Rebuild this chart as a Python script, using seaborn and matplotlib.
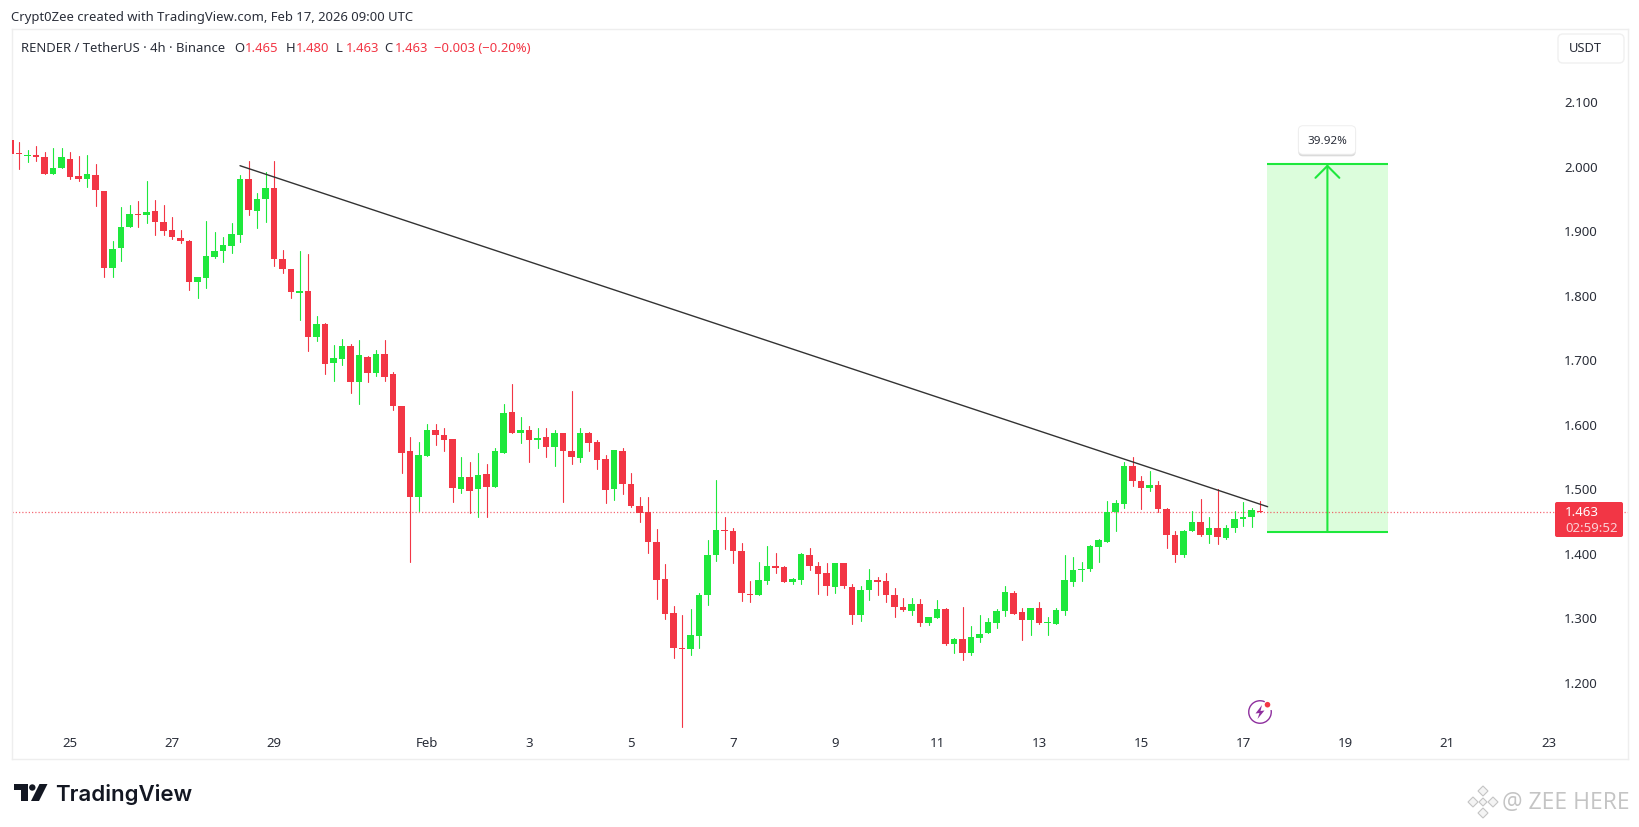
import numpy as np
import pandas as pd
import seaborn as sns
import matplotlib
matplotlib.use("Agg")
from matplotlib import pyplot as plt
from matplotlib import patches
from matplotlib import patheffects as pe

# RENDER/USDT 4h candles
opens = [2.040,2.019,2.015,2.017,2.013,1.987,1.997,2.011,1.984,1.980,
         1.985,1.961,1.841,1.872,1.905,1.925,1.923,1.929,1.912,1.900,
         1.888,1.884,1.820,1.826,1.858,1.868,1.876,1.893,1.979,1.930,
         1.948,1.966,1.856,1.840,1.802,1.806,1.735,1.755,1.694,1.701,
         1.721,1.665,1.704,1.679,1.708,1.677,1.628,1.557,1.487,1.550,
         1.591,1.582,1.576,1.499,1.518,1.498,1.522,1.502,1.554,1.618,
         1.585,1.590,1.574,1.579,1.564,1.586,1.558,1.547,1.586,1.571,
         1.545,1.498,1.558,1.507,1.473,1.463,1.416,1.359,1.307,1.253,
         1.250,1.271,1.334,1.397,1.435,1.433,1.403,1.336,1.334,1.356,
         1.380,1.378,1.355,1.357,1.397,1.379,1.368,1.347,1.384,1.347,
         1.303,1.342,1.357,1.356,1.334,1.316,1.310,1.320,1.291,1.299,
         1.313,1.259,1.266,1.245,1.268,1.275,1.291,1.309,1.337,1.308,
         1.295,1.314,1.291,1.290,1.309,1.355,1.373,1.375,1.409,1.417,
         1.463,1.476,1.535,1.511,1.500,1.505,1.467,1.428,1.396,1.434,
         1.447,1.427,1.438,1.423,1.438,1.452,1.455,1.465]
highs = [2.040,2.037,2.024,2.030,2.022,2.027,2.028,2.022,2.015,2.017,
         2.002,1.961,1.883,1.936,1.939,1.946,1.977,1.947,1.939,1.920,
         1.900,1.885,1.828,1.915,1.897,1.890,1.911,1.985,2.007,1.958,
         1.991,2.007,1.869,1.840,1.868,1.863,1.767,1.756,1.722,1.731,
         1.724,1.730,1.705,1.714,1.729,1.680,1.628,1.579,1.572,1.600,
         1.600,1.593,1.577,1.548,1.541,1.554,1.537,1.563,1.630,1.662,
         1.611,1.596,1.593,1.593,1.590,1.586,1.651,1.594,1.587,1.575,
         1.551,1.560,1.562,1.523,1.487,1.487,1.436,1.383,1.317,1.303,
         1.313,1.337,1.420,1.513,1.455,1.439,1.415,1.356,1.386,1.411,
         1.400,1.379,1.361,1.399,1.407,1.386,1.384,1.384,1.384,1.352,
         1.348,1.374,1.363,1.368,1.346,1.330,1.330,1.328,1.300,1.326,
         1.314,1.267,1.316,1.287,1.304,1.298,1.313,1.349,1.341,1.314,
         1.314,1.323,1.301,1.314,1.396,1.394,1.385,1.412,1.421,1.480,
         1.481,1.540,1.549,1.519,1.527,1.511,1.470,1.433,1.435,1.464,
         1.483,1.455,1.498,1.443,1.465,1.478,1.470,1.480]
lows = [2.018,1.995,2.005,2.008,1.987,1.987,1.997,1.980,1.977,1.967,
        1.938,1.827,1.827,1.853,1.905,1.905,1.911,1.893,1.893,1.887,
        1.880,1.807,1.795,1.811,1.857,1.850,1.865,1.882,1.923,1.903,
        1.913,1.845,1.833,1.795,1.761,1.713,1.728,1.677,1.666,1.691,
        1.648,1.631,1.664,1.674,1.666,1.621,1.523,1.385,1.465,1.550,
        1.567,1.557,1.479,1.493,1.461,1.455,1.456,1.502,1.554,1.585,
        1.570,1.541,1.562,1.548,1.534,1.478,1.537,1.541,1.557,1.530,
        1.477,1.481,1.491,1.471,1.448,1.400,1.328,1.297,1.237,1.129,
        1.241,1.252,1.319,1.387,1.406,1.384,1.325,1.323,1.334,1.352,
        1.369,1.354,1.352,1.352,1.373,1.336,1.335,1.338,1.345,1.289,
        1.294,1.327,1.334,1.324,1.300,1.309,1.303,1.286,1.288,1.299,
        1.257,1.244,1.234,1.241,1.262,1.275,1.283,1.302,1.305,1.265,
        1.273,1.290,1.273,1.290,1.303,1.348,1.356,1.371,1.386,1.417,
        1.433,1.469,1.503,1.467,1.496,1.463,1.408,1.386,1.393,1.434,
        1.426,1.415,1.413,1.422,1.432,1.442,1.440,1.463]
closes = [2.018,2.018,2.017,2.014,1.987,1.997,2.013,1.982,1.980,1.987,
          1.962,1.841,1.871,1.905,1.925,1.923,1.928,1.912,1.899,1.889,
          1.883,1.820,1.827,1.860,1.867,1.877,1.894,1.979,1.931,1.948,
          1.966,1.856,1.840,1.804,1.805,1.735,1.754,1.693,1.702,1.721,
          1.665,1.706,1.679,1.708,1.673,1.627,1.554,1.487,1.551,1.591,
          1.583,1.575,1.501,1.518,1.496,1.521,1.502,1.557,1.617,1.585,
          1.590,1.574,1.578,1.564,1.586,1.558,1.548,1.586,1.570,1.544,
          1.497,1.559,1.507,1.472,1.462,1.416,1.358,1.305,1.253,1.250,
          1.272,1.334,1.397,1.435,1.433,1.403,1.337,1.335,1.357,1.379,
          1.377,1.355,1.359,1.398,1.380,1.367,1.348,1.384,1.348,1.303,
          1.342,1.357,1.355,1.335,1.316,1.311,1.320,1.291,1.300,1.312,
          1.259,1.266,1.244,1.270,1.274,1.292,1.310,1.339,1.305,1.295,
          1.314,1.291,1.293,1.311,1.357,1.373,1.375,1.410,1.419,1.463,
          1.477,1.534,1.511,1.501,1.505,1.467,1.428,1.397,1.433,1.447,
          1.427,1.438,1.424,1.438,1.452,1.456,1.466,1.463]

last_bar = "2026-02-17 08:00"
tick_dates = ["2026-01-25", "2026-01-27", "2026-01-29", "2026-02-01", "2026-02-03",
              "2026-02-05", "2026-02-07", "2026-02-09", "2026-02-11", "2026-02-13",
              "2026-02-15", "2026-02-17", "2026-02-19", "2026-02-21", "2026-02-23"]
tick_labels = ["25", "27", "29", "Feb", "3", "5", "7", "9", "11", "13", "15", "17", "19", "21", "23"]
price_ticks = [1.2, 1.3, 1.4, 1.5, 1.6, 1.7, 1.8, 1.9, 2.0, 2.1]

trend_bars = [27, 147.9]
trend_prices = [2.000, 1.4713]
long_bars = [147.8, 162.06]
entry_price = 1.4326
target_price = 2.002
last_price = 1.463

GREEN = "#1ee83c"
RED = "#f23645"
FRAME = "#eeeeee"
TEXT = "#2a2e39"

sns.set_theme(style="white")
plt.rcParams["font.family"] = ["Noto Sans", "DejaVu Sans"]

df = pd.DataFrame({"open": opens, "high": highs, "low": lows, "close": closes})
df["bar"] = np.arange(len(df))
df["side"] = np.where(df["close"] >= df["open"], "up", "down")
df["top"] = df[["open", "close"]].max(axis=1)
df["bottom"] = df[["open", "close"]].min(axis=1)
df["body"] = df["top"] - df["bottom"]

dates = pd.date_range(end=last_bar, periods=len(df), freq="4h")
tick_pos = [(pd.Timestamp(d) - dates[0]) / pd.Timedelta(hours=4) for d in tick_dates]

fig = plt.figure(figsize=(16.4, 8.28), dpi=100)
ax = fig.add_axes([12 / 1640, (828 - 760) / 828, 1616 / 1640, 730 / 828])

# long position box goes under the candles
ax.fill_between(long_bars, entry_price, target_price, color="#dcfddc", lw=0, zorder=1)
ax.hlines([entry_price, target_price], long_bars[0], long_bars[1], color=GREEN, lw=1.5, zorder=2)
ax.annotate("", xy=(np.mean(long_bars), target_price), xytext=(np.mean(long_bars), entry_price),
            arrowprops=dict(arrowstyle="->,head_length=8.6,head_width=8.6", mutation_scale=1,
                            color=GREEN, lw=1.5, shrinkA=0, shrinkB=0), zorder=2)

ax.axhline(last_price, color=RED, lw=0.9, ls=(0, (1, 1.6)), alpha=0.75, zorder=2)

wicks = df.melt(id_vars=["bar", "side"], value_vars=["low", "high"], value_name="price")
sns.lineplot(data=wicks, x="bar", y="price", hue="side", units="bar", estimator=None,
             palette={"up": GREEN, "down": RED}, lw=0.8, legend=False, ax=ax, zorder=3)

for side, col in [("up", GREEN), ("down", RED)]:
    part = df[df["side"] == side]
    sns.barplot(data=part, x="bar", y="body", native_scale=True, errorbar=None, color=col,
                saturation=1, width=0.72, bottom=part["bottom"].values, lw=0, ax=ax, zorder=4)

ax.plot(trend_bars, trend_prices, color="#333333", lw=1, zorder=5)

ax.set_xlim((12 - 10.5) / 8.5, (1628 - 10.5) / 8.5)
ax.set_ylim(2 - (760 - 166.7) / 645, 2 - (30 - 166.7) / 645)
ax.set_xlabel("")
ax.set_ylabel("")
ax.set_xticks(tick_pos, tick_labels)
ax.set_yticks(price_ticks, [f"{p:.3f}" for p in price_ticks])
ax.yaxis.tick_right()
ax.tick_params(axis="x", length=0, pad=-16.5, labelsize=9.5, labelcolor=TEXT)
ax.tick_params(axis="y", length=0, pad=-46, labelsize=9.5, labelcolor=TEXT)
for lab in ax.get_xticklabels():
    if lab.get_text() == "Feb":
        lab.set_fontweight("bold")
for s in ax.spines.values():
    s.set_color(FRAME)
    s.set_linewidth(1)

# everything that is not chart data is placed in image pixels
deco = fig.add_axes([0, 0, 1, 1], zorder=10)
deco.set_xlim(0, 1640)
deco.set_ylim(828, 0)
deco.axis("off")
deco.patch.set_alpha(0)


def label(x, y, s, size=9.5, color=TEXT, **kw):
    kw.setdefault("va", "center")
    return deco.text(x, y, s, fontsize=size, color=color, **kw)


label(11, 17, "Crypt0Zee created with TradingView.com, Feb 17, 2026 09:00 UTC", size=9.4)
label(21, 48, "RENDER / TetherUS · 4h · Binance", size=9.4)
for x, s, col in [(234.5, "O", TEXT), (244.5, "1.465", RED), (285.5, "H", TEXT), (295.5, "1.480", RED),
                  (335.5, "L", TEXT), (345.5, "1.463", RED), (384.5, "C", TEXT), (394.5, "1.463", RED),
                  (434, "−0.003 (−0.20%)", RED)]:
    label(x, 48, s, size=9.4, color=col)

deco.add_patch(patches.FancyBboxPatch((1561, 38), 60, 23, boxstyle="round,pad=3,rounding_size=5",
                                      fc="white", ec="#f0f0f0", lw=1))
label(1569, 49, "USDT", size=9.3)

gain = label(1327, 141, "39.92%", size=8.4, ha="center",
             bbox=dict(boxstyle="round,pad=0.75,rounding_size=0.4", fc="white", ec="#ececec", lw=0.6))
gain.get_bbox_patch().set_path_effects([pe.SimplePatchShadow(offset=(0, -1.5), shadow_rgbFace="#999999", alpha=0.35),
                                        pe.Normal()])

deco.add_patch(patches.FancyBboxPatch((1556, 504), 66, 33, boxstyle="round,pad=1,rounding_size=2", fc=RED, lw=0))
label(1565, 513, "1.463", size=9.5, color="white", fontweight="medium")
label(1565, 529, "02:59:52", size=9.5, color="#fbd0d5")

# news flash icon
deco.add_patch(patches.Arc((1260, 713), 22.5, 22.5, theta1=-10, theta2=295, color="#8e2f9e", lw=1))
deco.add_patch(patches.Polygon([[1262, 706], [1255.5, 714.5], [1259.5, 714], [1257.5, 720],
                                [1264.5, 711.5], [1260.5, 712]], fc="#8e2f9e", lw=0))
deco.add_patch(patches.Circle((1267.5, 705.7), 2.8, fc=RED, lw=0))

# TradingView logo
logo = "#131722"
deco.add_patch(patches.Polygon([[14, 785], [28, 785], [28, 802], [21, 802], [21, 791.5], [14, 791.5]], fc=logo, lw=0))
deco.add_patch(patches.Circle((32.3, 788.5), 3.2, fc=logo, lw=0))
deco.add_patch(patches.Polygon([[39.5, 785], [47.5, 785], [39, 802], [31, 802]], fc=logo, lw=0))
label(55, 795, "TradingView", size=16, color=logo, fontweight="semibold", family=["Inter", "DejaVu Sans"])

# watermark
mark = "#c4c4c4"
for cx, cy, r in [(1483, 792, 5), (1473, 803, 5), (1493, 803, 5), (1483, 814, 5), (1483, 803, 4)]:
    deco.add_patch(patches.Polygon([[cx, cy - r], [cx + r, cy], [cx, cy + r], [cx - r, cy]],
                                   fc="#f4f4f4", ec=mark, lw=0.8))
label(1502, 803, "@ ZEE HERE", size=16.5, color=mark, family=["Open Sans", "DejaVu Sans"])

fig.savefig("out.png", dpi=100, facecolor="white")
